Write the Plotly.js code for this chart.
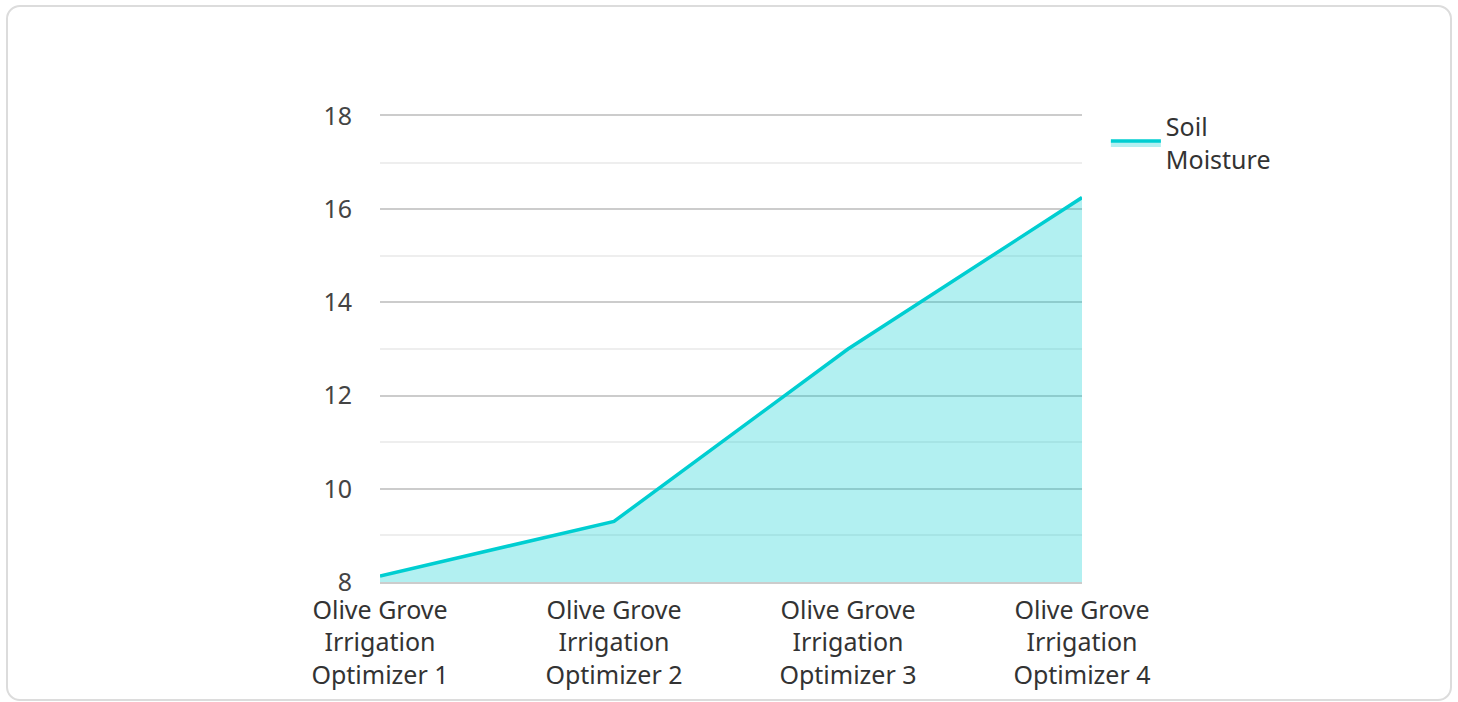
<!DOCTYPE html>
<html>
<head>
<meta charset="utf-8">
<script src="https://cdn.plot.ly/plotly-3.0.1.min.js"></script>
<style>
  html, body { margin: 0; padding: 0; background: #fff; }
  #card { position: absolute; left: 6px; top: 5px; width: 1446px; height: 696px;
          border: 2px solid #dcdcdc; border-radius: 14px; box-sizing: border-box; }
  #chart { position: absolute; left: 0; top: 0; width: 1458px; height: 702px; }
</style>
</head>
<body>
<div id="card"></div>
<div id="chart"></div>
<script>
const categories = ["Olive Grove Irrigation Optimizer 1", "Olive Grove Irrigation Optimizer 2",
                    "Olive Grove Irrigation Optimizer 3", "Olive Grove Irrigation Optimizer 4"];
const tickLabels = ["Olive Grove<br>Irrigation<br>Optimizer 1", "Olive Grove<br>Irrigation<br>Optimizer 2",
                    "Olive Grove<br>Irrigation<br>Optimizer 3", "Olive Grove<br>Irrigation<br>Optimizer 4"];
const soilMoisture = [8.13, 9.3, 13.0, 16.25];
const seriesName = "Soil<br>Moisture";
const yTicks = [8, 10, 12, 14, 16, 18];

const trace = {
  type: "scatter",
  mode: "lines",
  x: categories,
  y: soilMoisture,
  name: seriesName,
  fill: "tozeroy",
  fillcolor: "rgba(0,206,209,0.3)",
  line: { color: "#00CED1", width: 3.5 },
  showlegend: true
};

const layout = {
  width: 1458, height: 702,
  paper_bgcolor: "rgba(0,0,0,0)",
  plot_bgcolor: "rgba(0,0,0,0)",
  font: { family: "Noto Sans, sans-serif", size: 25, color: "#444" },
  margin: { l: 380, r: 376, t: 116, b: 120 },
  showlegend: true,
  legend: { x: 1.034, xanchor: "left", y: 1.026, yanchor: "top", itemwidth: 50,
            font: { size: 25, color: "#333" } },
  xaxis: {
    type: "category",
    tickmode: "array", tickvals: categories, ticktext: tickLabels,
    range: [0, 3],
    showgrid: false, zeroline: false,
    showline: true, mirror: true, linecolor: "#cccccc", linewidth: 1.5, layer: "below traces",
    ticks: "outside", ticklen: 5, tickcolor: "rgba(0,0,0,0)",
    tickfont: { size: 25, color: "#333" }
  },
  yaxis: {
    range: [8, 18],
    tickmode: "array", tickvals: yTicks,
    showgrid: true, gridcolor: "#cccccc", gridwidth: 1.5,
    zeroline: false, showline: false,
    ticks: "outside", ticklen: 22, tickcolor: "rgba(0,0,0,0)",
    minor: { dtick: 1, showgrid: true, gridcolor: "#eeeeee", gridwidth: 1.5 },
    tickfont: { size: 25, color: "#444" }
  }
};

Plotly.newPlot("chart", [trace], layout, { displayModeBar: false, responsive: false });
</script>
</body>
</html>
